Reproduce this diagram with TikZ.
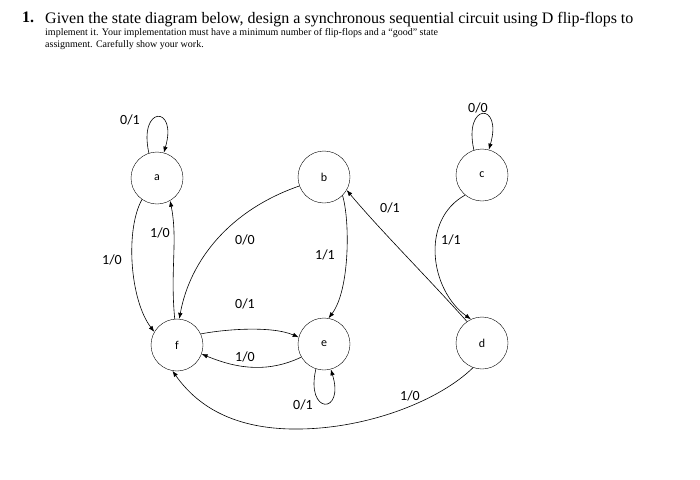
\documentclass[tikz,border=0pt]{standalone}
\usepackage{fontspec}
\setmainfont{Liberation Serif}
\newfontfamily\lab{Carlito}
\usetikzlibrary{arrows.meta}
\begin{document}
\begin{tikzpicture}[x=1pt,y=-1pt,
  st/.style={draw,circle,minimum size=52pt,inner sep=0pt,font=\lab\fontsize{12}{14}\selectfont},
  ed/.style={draw,-{Latex[length=6pt,width=4.5pt]},line width=0.6pt},
  lb/.style={font=\lab\fontsize{14}{16}\selectfont}]
\useasboundingbox (0,0) rectangle (700,479);
\node[anchor=north west,inner sep=0pt] (n1) at (22,12) {\fontsize{16}{19}\selectfont\textbf{1.}};
\node[anchor=north west,inner sep=0pt,align=left] (q) at (45,12)
 {\fontsize{16}{19}\selectfont Given the state diagram below, design a synchronous sequential circuit using D flip-flops to\\ implement it. Your implementation must have a minimum number of flip-flops and a ``good'' state\\ assignment. Carefully show your work.};
\node[st] (a) at (157,178) {a};
\node[st] (b) at (324,177) {b};
\node[st] (c) at (482,175) {c};
\node[st] (f) at (177,345) {f};
\node[st] (e) at (324,344) {e};
\node[st] (d) at (482,343) {d};
\draw[ed] (a.108) .. controls (138,105) and (178,105) .. (a.75);
\draw[ed] (c.108) .. controls (463,102) and (503,102) .. (c.75);
\draw[ed] (e.-108) .. controls (305,415) and (345,415) .. (e.-75);
\draw[ed] (a.235) .. controls (125,230) and (130,300) .. (f.150);
\draw[ed] (f.95) .. controls (170,270) and (178,240) .. (a.-60);
\draw[ed] (b.200) .. controls (230,210) and (190,260) .. (f.85);
\draw[ed] (b.-45) .. controls (350,220) and (350,290) .. (e.80);
\draw[ed] (f.25) .. controls (220,330) and (270,325) .. (e.165);
\draw[ed] (e.-150) .. controls (270,372) and (240,370) .. (f.-20);
\draw[ed] (d.125) .. controls (430,280) and (380,230) .. (b.-30);
\draw[ed] (c.230) .. controls (420,220) and (430,290) .. (d.115);
\draw[ed] (d.-110) .. controls (440,400) and (370,428) .. (300,429) .. controls (240,430) and (200,410) .. (f.-100);
\node[lb] (l1) at (130,120) {0/1};
\node[lb] (l2) at (478,108) {0/0};
\node[lb] (l3) at (303,405) {0/1};
\node[lb] (l4) at (112,260) {1/0};
\node[lb] (l5) at (160,233) {1/0};
\node[lb] (l6) at (245,240) {0/0};
\node[lb] (l7) at (325,255) {1/1};
\node[lb] (l8) at (245,304) {0/1};
\node[lb] (l9) at (245,357) {1/0};
\node[lb] (l10) at (390,208) {0/1};
\node[lb] (l11) at (451,240) {1/1};
\node[lb] (l12) at (410,396) {1/0};
\end{tikzpicture}
\end{document}
